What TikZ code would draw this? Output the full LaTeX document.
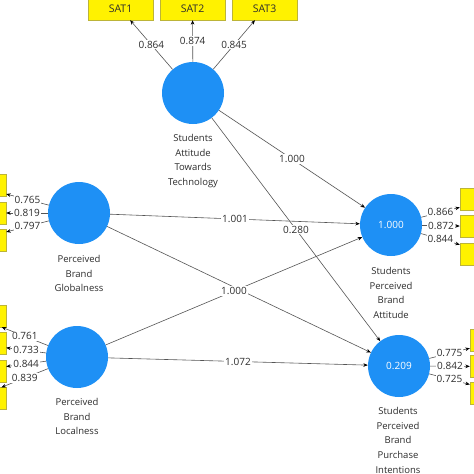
\documentclass[tikz,border=0pt]{standalone}
\usepackage{fontspec}
\setmainfont{Open Sans}
\usetikzlibrary{arrows.meta}
\definecolor{plsblue}{RGB}{30,144,245}
\definecolor{txt}{RGB}{45,45,45}
\definecolor{ln}{RGB}{85,85,85}
\begin{document}
\begin{tikzpicture}[x=1pt,y=-1pt,
  lv/.style={circle,fill=plsblue,minimum size=62pt,inner sep=0pt,text=white,font=\fontsize{10}{11}\selectfont},
  mv/.style={rectangle,fill=yellow,draw=yellow!70!black,line width=0.4pt,minimum width=65pt,minimum height=22pt,inner sep=0pt,text=txt,font=\fontsize{10.5}{12}\selectfont},
  conn/.style={draw=ln,line width=0.6pt,-{Stealth[length=4.5pt,width=3.6pt,black]}},
  wt/.style={fill=white,inner sep=1pt,text=txt,font=\fontsize{10}{11}\selectfont},
  lvname/.style={align=center,text=txt,font=\fontsize{9.5}{14.7}\selectfont,anchor=north,inner sep=0pt}]
\useasboundingbox (0,0) rectangle (474,474);
\fill[white] (0,0) rectangle (474,474);
\clip (0,0) rectangle (474,474);

% latent variables
\node[lv] (sat) at (193,93) {};
\node[lv] (pbg) at (79,213) {};
\node[lv] (pbl) at (77,357) {};
\node[lv] (spba) at (391,225) {1.000};
\node[lv] (spbpi) at (399,366) {0.209};

% names
\node[lvname] (satn) at (193,134) {Students\\Attitude\\Towards\\Technology};
\node[lvname] (pbgn) at (79,255) {Perceived\\Brand\\Globalness};
\node[lvname] (pbln) at (77,398) {Perceived\\Brand\\Localness};
\node[lvname] (spban) at (391,267) {Students\\Perceived\\Brand\\Attitude};
\node[lvname] (spbpin) at (398,407) {Students\\Perceived\\Brand\\Purchase\\Intentions};

% indicators
\node[mv] (sat1) at (120.5,9) {SAT1};
\node[mv] (sat2) at (192.5,9) {SAT2};
\node[mv] (sat3) at (264.5,9) {SAT3};
\node[mv] (g1) at (-26.5,185.5) {};
\node[mv] (g2) at (-26.5,213) {};
\node[mv] (g3) at (-26.5,240.5) {};
\node[mv] (l1) at (-26.5,316) {};
\node[mv] (l2) at (-26.5,343.5) {};
\node[mv] (l3) at (-26.5,371) {};
\node[mv] (l4) at (-26.5,398.5) {};
\node[mv] (a1) at (492.5,199) {};
\node[mv] (a2) at (492.5,226.5) {};
\node[mv] (a3) at (492.5,254) {};
\node[mv] (p1) at (502.5,340) {};
\node[mv] (p2) at (502.5,366.5) {};
\node[mv] (p3) at (502.5,393) {};

% outer loadings
\draw[conn] (sat) -- node[wt]{0.864} (sat1);
\draw[conn] (sat) -- node[wt]{0.874} (sat2);
\draw[conn] (sat) -- node[wt]{0.845} (sat3);
\draw[conn] (pbg) -- node[wt]{0.765} (g1);
\draw[conn] (pbg) -- node[wt]{0.819} (g2);
\draw[conn] (pbg) -- node[wt]{0.797} (g3);
\draw[conn] (pbl) -- node[wt]{0.761} (l1);
\draw[conn] (pbl) -- node[wt]{0.733} (l2);
\draw[conn] (pbl) -- node[wt]{0.844} (l3);
\draw[conn] (pbl) -- node[wt]{0.839} (l4);
\draw[conn] (spba) -- node[wt]{0.866} (a1);
\draw[conn] (spba) -- node[wt]{0.872} (a2);
\draw[conn] (spba) -- node[wt]{0.844} (a3);
\draw[conn] (spbpi) -- node[wt]{0.775} (p1);
\draw[conn] (spbpi) -- node[wt]{0.842} (p2);
\draw[conn] (spbpi) -- node[wt]{0.725} (p3);

% structural paths
\draw[conn] (pbg) -- (spbpi);
\draw[conn] (sat) -- node[wt]{1.000} (spba);
\draw[conn] (sat) -- node[wt]{0.280} (spbpi);
\draw[conn] (pbg) -- node[wt]{1.001} (spba);
\draw[conn] (pbl) -- node[wt]{1.000} (spba);
\draw[conn] (pbl) -- node[wt]{1.072} (spbpi);
\end{tikzpicture}
\end{document}
